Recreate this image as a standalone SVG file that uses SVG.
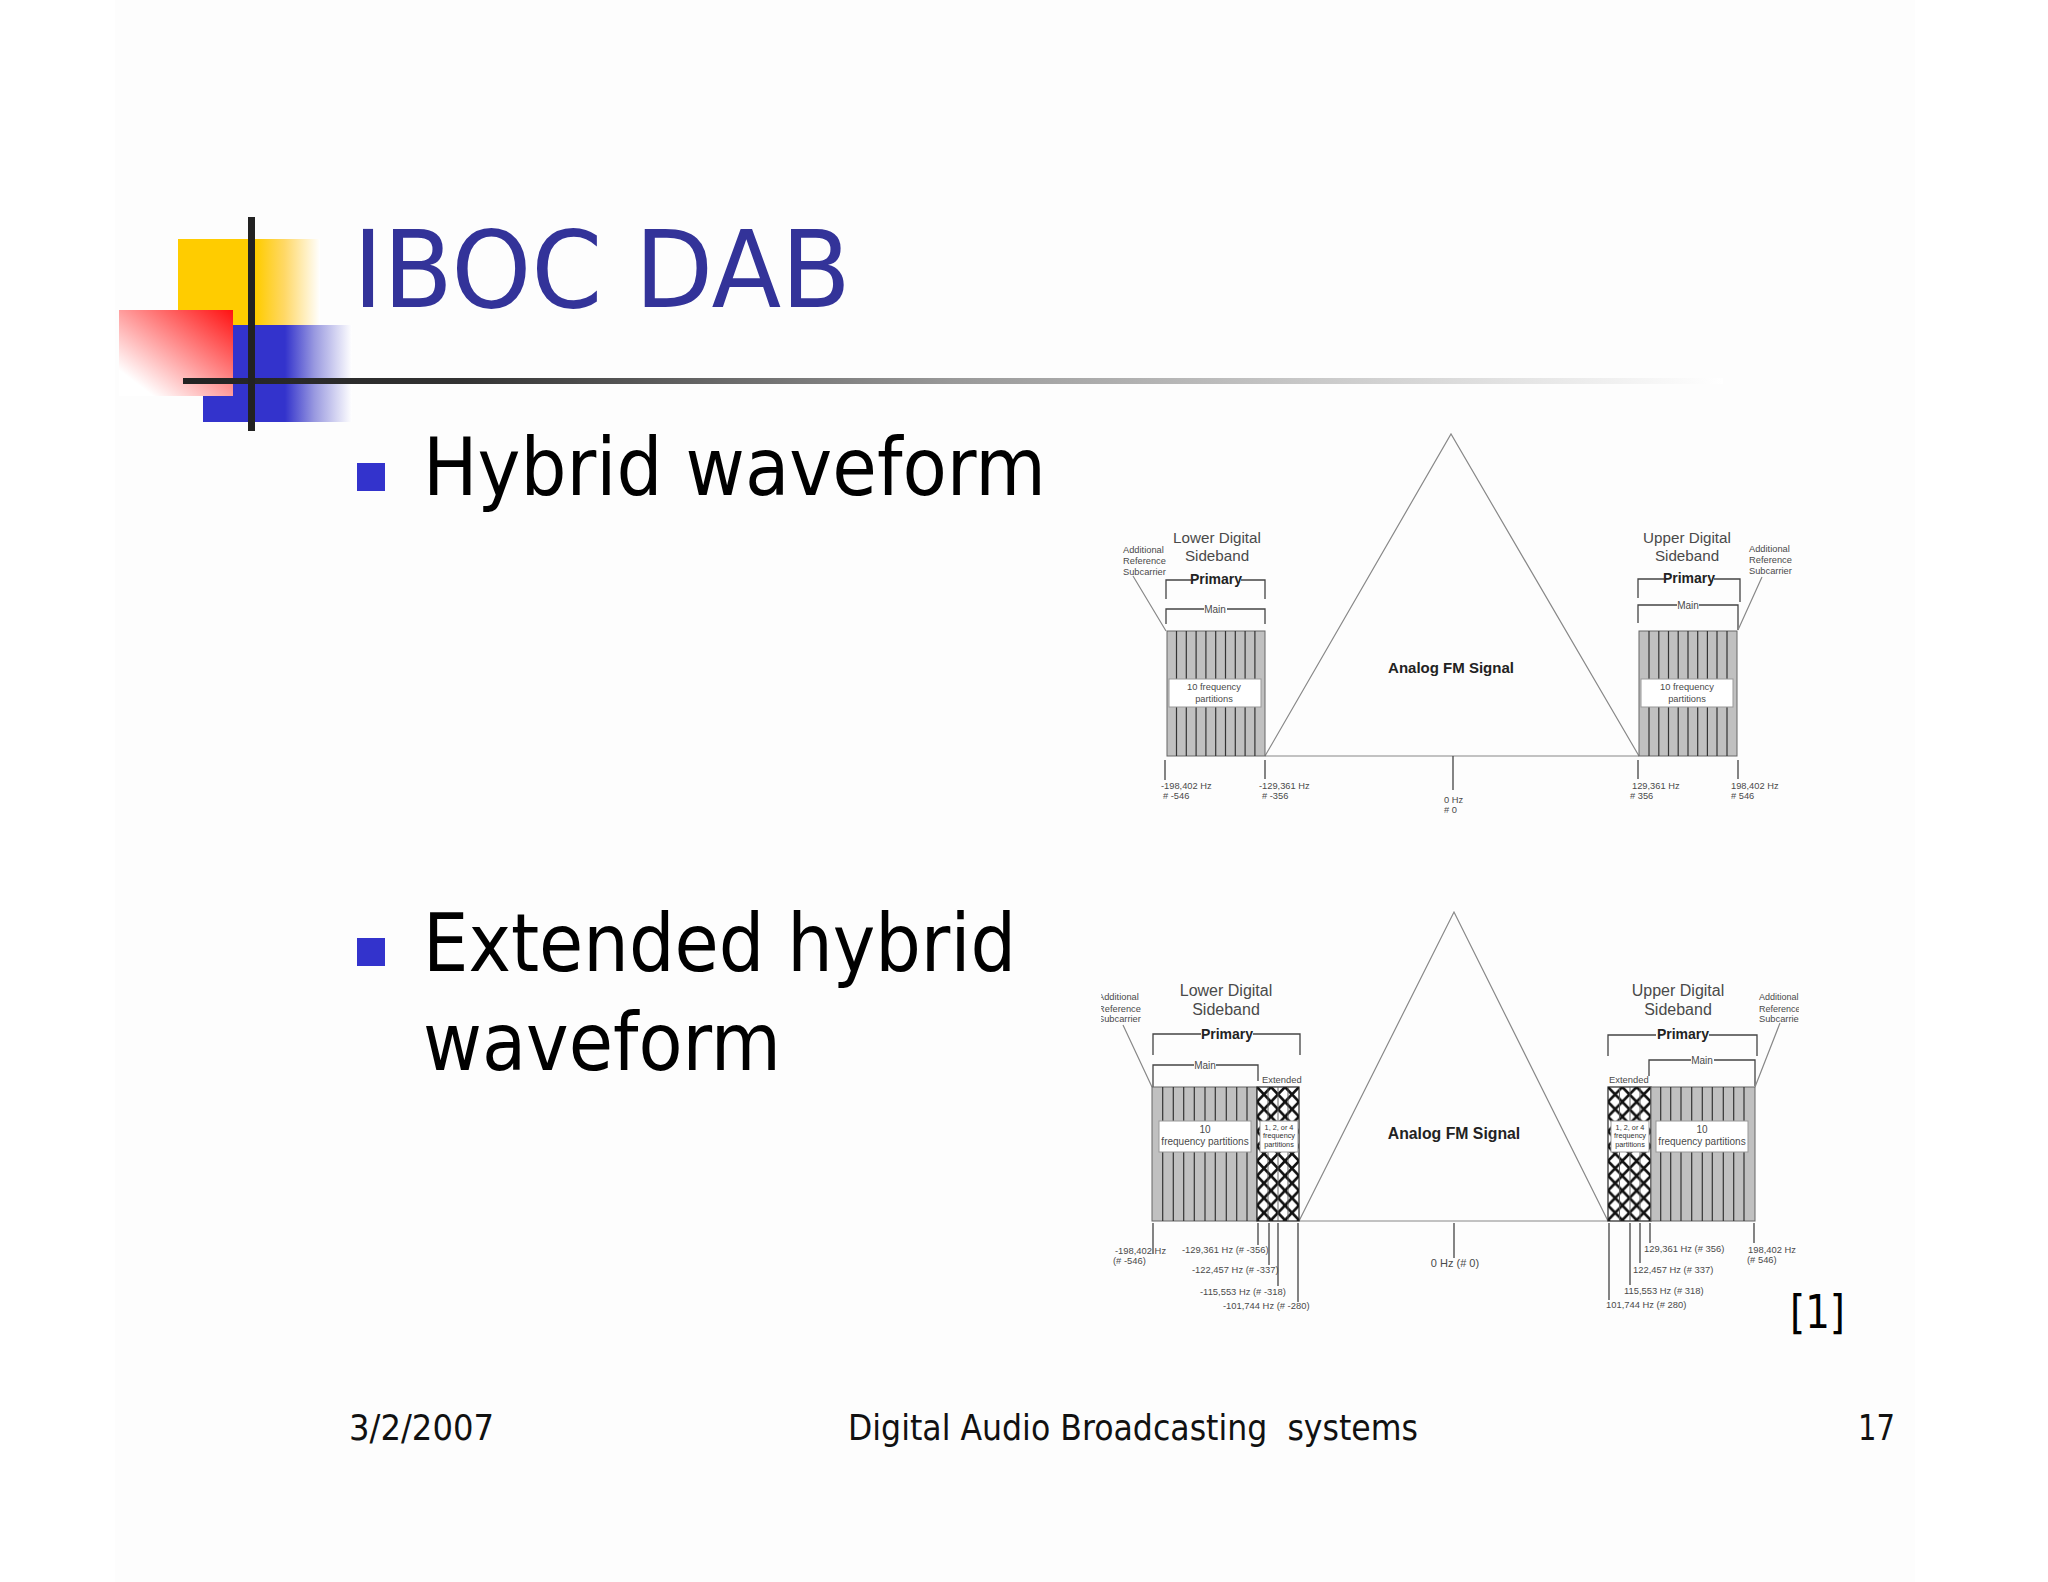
<svg xmlns="http://www.w3.org/2000/svg" width="2048" height="1582" viewBox="0 0 2048 1582">
<style>
text{font-family:"Liberation Sans",Arial,sans-serif;fill:#4a4a4a}
.slide{font-family:"DejaVu Sans",Verdana,sans-serif;fill:#000}
.title{font-size:107px;fill:#333399}
.bul{font-size:80px}
.foot{font-size:36px;fill:#111}
.m{text-anchor:middle}
.h{font-size:15.2px}
.hb{font-size:16px}
.p{font-size:14px;font-weight:bold;fill:#222}
.a{font-size:15px;font-weight:bold;fill:#222}
.ab{font-size:15.8px;font-weight:bold;fill:#222}
.s{font-size:9.3px}
.t{font-size:10px}
.l{font-size:9.4px}
.x{font-size:7.3px;fill:#333}
.ln{fill:none;stroke:#444;stroke-width:1.3}
.ray{fill:none;stroke:#888;stroke-width:1.2}
.div{fill:none;stroke:#333;stroke-width:1.2}
.vh{fill:none;stroke:#555;stroke-width:.9}
.band{fill:#c0c0c0;stroke:#666;stroke-width:1}
.box{fill:#fff;stroke:#999;stroke-width:1}
</style>
<defs>
<linearGradient id="gy" gradientUnits="userSpaceOnUse" x1="178" y1="0" x2="320" y2="0"><stop offset="0" stop-color="#ffcc00"/><stop offset=".55" stop-color="#ffcc00"/><stop offset=".75" stop-color="#ffd866"/><stop offset="1" stop-color="#fff"/></linearGradient>
<linearGradient id="gb" gradientUnits="userSpaceOnUse" x1="203" y1="0" x2="352" y2="0"><stop offset="0" stop-color="#3333cc"/><stop offset=".55" stop-color="#3333cc"/><stop offset=".75" stop-color="#9a9ae0"/><stop offset="1" stop-color="#fff"/></linearGradient>
<linearGradient id="gr" x1="1" y1="0" x2="0" y2="1"><stop offset="0" stop-color="#ff1111"/><stop offset=".85" stop-color="#fff"/><stop offset="1" stop-color="#fff"/></linearGradient>
<linearGradient id="gl"><stop offset="0" stop-color="#222"/><stop offset=".18" stop-color="#333"/><stop offset=".5" stop-color="#999"/><stop offset="1" stop-color="#fff"/></linearGradient>
<pattern id="hatch" patternUnits="userSpaceOnUse" width="14" height="14.800" x="1257" y="1087">
<rect width="14" height="14.800" fill="#fff"/>
<path d="M0 0L14 14.800M14 0L0 14.800" stroke="#111" stroke-width="2.600"/>
</pattern>
<pattern id="hatch2" patternUnits="userSpaceOnUse" width="14.300" height="14.800" x="1608" y="1087">
<rect width="14.300" height="14.800" fill="#fff"/>
<path d="M0 0L14.300 14.800M14.300 0L0 14.800" stroke="#111" stroke-width="2.600"/>
</pattern>
<clipPath id="cl"><rect x="1101" y="980" width="60" height="50"/></clipPath>
<clipPath id="cr"><rect x="1750" y="980" width="49" height="50"/></clipPath>
</defs>
<rect width="2048" height="1582" fill="#fff"/>
<rect x="115" y="0" width="1800" height="1582" fill="#fdfdfd"/>

<g id="decoration">
<rect x="178" y="239" width="142" height="86" fill="url(#gy)"/>
<rect x="203" y="325" width="149" height="97" fill="url(#gb)"/>
<rect x="119" y="310" width="114" height="86" fill="url(#gr)"/>
<rect x="183" y="378" width="1540" height="6" fill="url(#gl)"/>
<rect x="248" y="217" width="7" height="214" fill="#222"/>
</g>

<g id="title"><text class="slide title" x="353" y="307" textLength="498" lengthAdjust="spacingAndGlyphs">IBOC DAB</text></g>

<g id="bullet-hybrid">
<rect x="357" y="463" width="28" height="28" fill="#3333cc"/>
<text class="slide bul" x="423" y="495" textLength="623" lengthAdjust="spacingAndGlyphs">Hybrid waveform</text>
</g>
<g id="bullet-extended">
<rect x="357" y="938" width="28" height="28" fill="#3333cc"/>
<text class="slide bul" x="423" y="971" textLength="593" lengthAdjust="spacingAndGlyphs">Extended hybrid</text>
<text class="slide bul" x="423" y="1070" textLength="358" lengthAdjust="spacingAndGlyphs">waveform</text>
</g>

<g id="footer">
<text class="slide foot" x="349" y="1440" textLength="145" lengthAdjust="spacingAndGlyphs">3/2/2007</text>
<text class="slide foot" x="848" y="1440" textLength="570" lengthAdjust="spacingAndGlyphs" xml:space="preserve">Digital Audio Broadcasting  systems</text>
<text class="slide foot" x="1858" y="1440" textLength="37" lengthAdjust="spacingAndGlyphs">17</text>
<text class="slide" x="1790" y="1328" font-size="46" textLength="55" lengthAdjust="spacingAndGlyphs">[1]</text>
</g>

<g id="connectors">
<path class="ray" d="M1265 756L1451 434L1639 756M1265 756H1639"/>
<path class="ln" d="M1453 756V790"/>
<path class="ln" d="M1165 760V780M1265 760V779M1638 760V779M1738 760V779"/>
<path class="ln" d="M1166 599V580H1191M1241 580H1265V599M1166 624V609H1204M1227 609H1265V624"/>
<path class="ln" d="M1638 598V579H1664M1714 579H1740V602M1638 623V605H1677M1699 605H1738V630"/>
<path class="ray" d="M1133 576L1166 631M1762 577L1738 630"/>
<path class="ray" d="M1299 1221L1454 912L1608 1221M1299 1221H1608"/>
<path class="ln" d="M1454 1223V1258"/>
<path class="ln" d="M1153 1223V1254M1258 1223V1245M1269 1223V1265M1278 1223V1286M1298 1223V1302"/>
<path class="ln" d="M1609 1223V1300M1630 1223V1285M1640 1223V1263M1650 1223V1243M1754 1223V1243"/>
<path class="ln" d="M1153 1055V1034H1201M1253 1034H1300V1055M1153 1087V1065H1194M1216 1065H1258V1081"/>
<path class="ln" d="M1608 1056V1035H1656M1709 1035H1757V1056M1649 1076V1060H1691M1714 1060H1755V1086"/>
<path class="ray" d="M1123 1025L1152 1087M1780 1023L1755 1087"/>
</g>

<g id="analog-fm-top"><text class="a m" x="1451" y="673">Analog FM Signal</text></g>
<g id="analog-fm-bottom"><text class="ab m" x="1454" y="1139">Analog FM Signal</text></g>

<g id="lower-top">
<text class="h m" x="1217" y="543">Lower Digital</text>
<text class="h m" x="1217" y="561">Sideband</text>
<text class="p m" x="1216" y="584">Primary</text>
<text class="t m" x="1215" y="613">Main</text>
<text class="s" x="1123" y="553">Additional</text>
<text class="s" x="1123" y="564">Reference</text>
<text class="s" x="1123" y="575">Subcarrier</text>
<rect class="band" x="1167" y="631" width="98" height="125"/>
<path class="div" d="M1176.500 631V756M1186.300 631V756M1196.100 631V756M1205.900 631V756M1215.700 631V756M1225.500 631V756M1235.300 631V756M1245.100 631V756M1254.900 631V756"/>
<rect class="box" x="1169" y="679" width="92" height="28"/>
<text class="s m" x="1214" y="690">10 frequency</text>
<text class="s m" x="1214" y="702">partitions</text>
<text class="s" x="1161" y="789">-198,402 Hz</text>
<text class="s" x="1163" y="799"># -546</text>
<text class="s" x="1259" y="789">-129,361 Hz</text>
<text class="s" x="1262" y="799"># -356</text>
</g>

<g id="center-top">
<text class="s" x="1444" y="803">0 Hz</text>
<text class="s" x="1444" y="813"># 0</text>
</g>

<g id="upper-top">
<text class="h m" x="1687" y="543">Upper Digital</text>
<text class="h m" x="1687" y="561">Sideband</text>
<text class="p m" x="1689" y="583">Primary</text>
<text class="t m" x="1688" y="609">Main</text>
<text class="s" x="1749" y="552">Additional</text>
<text class="s" x="1749" y="563">Reference</text>
<text class="s" x="1749" y="574">Subcarrier</text>
<rect class="band" x="1639" y="631" width="98" height="125"/>
<path class="div" d="M1649 631V756M1658.800 631V756M1668.500 631V756M1678.200 631V756M1688 631V756M1697.700 631V756M1707.400 631V756M1717 631V756M1727 631V756"/>
<rect class="box" x="1641" y="679" width="92" height="28"/>
<text class="s m" x="1687" y="690">10 frequency</text>
<text class="s m" x="1687" y="702">partitions</text>
<text class="s" x="1632" y="789">129,361 Hz</text>
<text class="s" x="1630" y="799"># 356</text>
<text class="s" x="1731" y="789">198,402 Hz</text>
<text class="s" x="1731" y="799"># 546</text>
</g>

<g id="lower-bottom">
<text class="hb m" x="1226" y="996">Lower Digital</text>
<text class="hb m" x="1226" y="1015">Sideband</text>
<text class="p m" x="1227" y="1039">Primary</text>
<text class="t m" x="1205" y="1069">Main</text>
<text class="l" x="1262" y="1083">Extended</text>
<g clip-path="url(#cl)">
<text class="s" x="1098" y="1000">Additional</text>
<text class="s" x="1098" y="1012">Reference</text>
<text class="s" x="1098" y="1022">Subcarrier</text>
</g>
<rect class="band" x="1152" y="1087" width="105" height="134"/>
<path class="div" d="M1162.700 1087V1221M1173.300 1087V1221M1183.700 1087V1221M1194.300 1087V1221M1205 1087V1221M1215.300 1087V1221M1226.300 1087V1221M1236.700 1087V1221M1247 1087V1221"/>
<rect x="1257" y="1087" width="42" height="134" fill="url(#hatch)" stroke="#222" stroke-width="1.200"/>
<path class="vh" d="M1268 1087V1221M1278 1087V1221M1288 1087V1221"/>
<rect class="box" x="1159" y="1121" width="92" height="31"/>
<text class="t m" x="1205" y="1133">10</text>
<text class="t m" x="1205" y="1145">frequency partitions</text>
<rect class="box" x="1260" y="1121" width="38" height="31"/>
<text class="x m" x="1279" y="1130">1, 2, or 4</text>
<text class="x m" x="1279" y="1138">frequency</text>
<text class="x m" x="1279" y="1147">partitions</text>
<text class="l" x="1115" y="1254">-198,402 Hz</text>
<text class="l" x="1113" y="1264">(# -546)</text>
<text class="l" x="1182" y="1253">-129,361 Hz (# -356)</text>
<text class="l" x="1192" y="1273">-122,457 Hz (# -337)</text>
<text class="l" x="1200" y="1295">-115,553 Hz (# -318)</text>
<text class="l" x="1223" y="1309">-101,744 Hz (# -280)</text>
</g>

<g id="center-bottom"><text class="t m" x="1455" y="1267" font-size="11" style="font-size:11px">0 Hz  (# 0)</text></g>

<g id="upper-bottom">
<text class="hb m" x="1678" y="996">Upper Digital</text>
<text class="hb m" x="1678" y="1015">Sideband</text>
<text class="p m" x="1683" y="1039">Primary</text>
<text class="t m" x="1702" y="1064">Main</text>
<text class="l" x="1609" y="1083">Extended</text>
<g clip-path="url(#cr)">
<text class="s" x="1759" y="1000" style="font-size:9px">Additional</text>
<text class="s" x="1759" y="1012" style="font-size:9px">Reference</text>
<text class="s" x="1759" y="1022">Subcarrier</text>
</g>
<rect x="1608" y="1087" width="43" height="134" fill="url(#hatch2)" stroke="#222" stroke-width="1.200"/>
<path class="vh" d="M1619.500 1087V1221M1630 1087V1221M1640 1087V1221"/>
<rect class="band" x="1651" y="1087" width="104" height="134"/>
<path class="div" d="M1660.700 1087V1221M1670.700 1087V1221M1681 1087V1221M1691.700 1087V1221M1702.300 1087V1221M1712.300 1087V1221M1723.300 1087V1221M1733.700 1087V1221M1744 1087V1221"/>
<rect class="box" x="1611" y="1121" width="38" height="31"/>
<text class="x m" x="1630" y="1130">1, 2, or 4</text>
<text class="x m" x="1630" y="1138">frequency</text>
<text class="x m" x="1630" y="1147">partitions</text>
<rect class="box" x="1656" y="1121" width="92" height="31"/>
<text class="t m" x="1702" y="1133">10</text>
<text class="t m" x="1702" y="1145">frequency partitions</text>
<text class="l" x="1644" y="1252">129,361 Hz (# 356)</text>
<text class="l" x="1633" y="1273">122,457 Hz (# 337)</text>
<text class="l" x="1624" y="1294">115,553 Hz (# 318)</text>
<text class="l" x="1606" y="1308">101,744 Hz (# 280)</text>
<text class="l" x="1748" y="1253">198,402 Hz</text>
<text class="l" x="1747" y="1263">(# 546)</text>
</g>
</svg>
